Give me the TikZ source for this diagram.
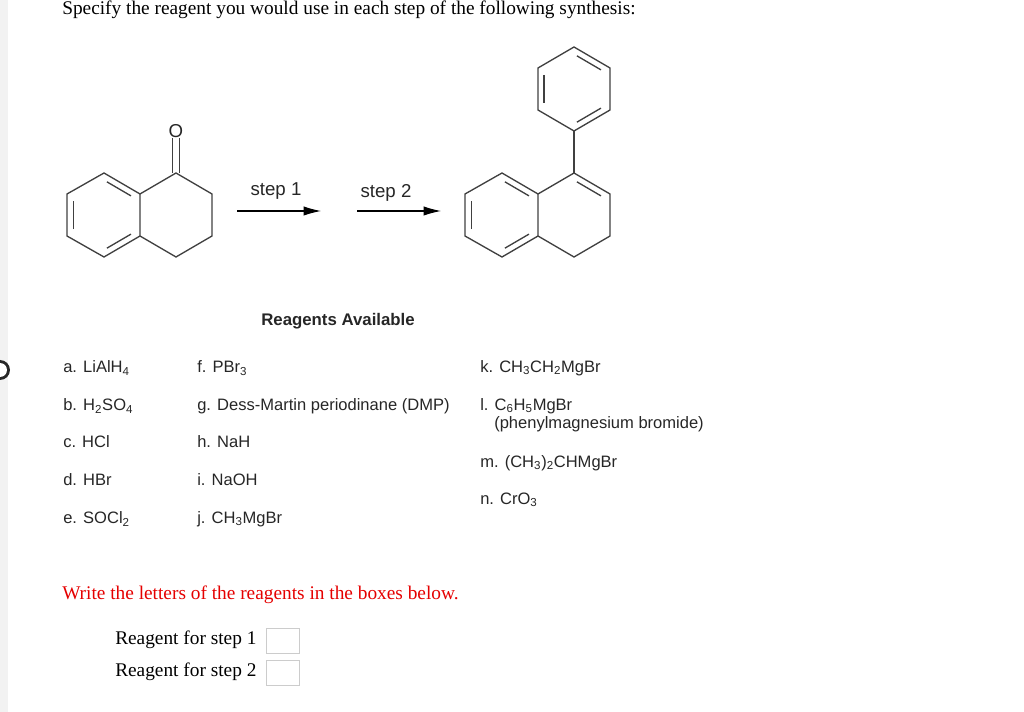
\documentclass[tikz,border=0pt]{standalone}
\usepackage{fontspec}
\setmainfont{Liberation Serif}
\setsansfont{Liberation Sans}
\usetikzlibrary{calc,arrows.meta}
\newcommand{\sub}[1]{\textsubscript{#1}}
\begin{document}
\begin{tikzpicture}[x=0.75pt,y=-0.75pt,
  bond/.style={line width=1pt,draw=black!75},
  lab/.style={font=\sffamily\fontsize{12.4}{14}\selectfont,anchor=west,inner sep=0pt,text=black!85},
  ser/.style={font=\fontsize{14.5}{17}\selectfont,anchor=west,inner sep=0pt},
  stp/.style={font=\sffamily\fontsize{14}{16}\selectfont,inner sep=0pt,text=black!85},
  rxn/.style={line width=0.8pt,-{Latex[length=13pt,width=7pt]}},
  ansbox/.style={draw=black!20,minimum width=25pt,minimum height=19pt,inner sep=0pt,anchor=north west}]
\useasboundingbox (0,0) rectangle (1024,712);
\fill[black!5] (0,0) rectangle (8,712);
\fill[black!85] (0,370) circle (10);
\fill[white] (0,370) circle (7);
\node[ser] (title) at (62,10) {Specify the reagent you would use in each step of the following synthesis:};
\newcommand{\inner}[3]{\draw[bond,shorten <=2.5pt,shorten >=2.5pt] ($(#1)!0.83!(#2)$) -- ($(#1)!0.83!(#3)$);}
% starting material
\coordinate (ca) at (104,215); \coordinate (cb) at (176,215);
\coordinate (a1) at (104,173); \coordinate (a2) at (140,194); \coordinate (a3) at (140,236);
\coordinate (a4) at (104,257); \coordinate (a5) at (67,236); \coordinate (a6) at (67,194);
\coordinate (b1) at (176,173); \coordinate (b2) at (212,194); \coordinate (b3) at (212,236); \coordinate (b4) at (176,257);
\draw[bond] (a1)--(a2)--(a3)--(a4)--(a5)--(a6)--cycle;
\draw[bond] (a2)--(b1)--(b2)--(b3)--(b4)--(a3);
\inner{ca}{a1}{a2} \inner{ca}{a5}{a6} \inner{ca}{a3}{a4}
\node[stp] (O) at (176,131) {O};
\draw[bond] ([xshift=-2.5pt]b1) -- ([xshift=-2.5pt]O.south);
\draw[bond] ([xshift=2.5pt]b1 |- b1) -- ([xshift=2.5pt]O.south);
% arrows
\coordinate (s1a) at (237,211); \coordinate (s1b) at (321,211);
\coordinate (s2a) at (357,211); \coordinate (s2b) at (441,211);
\draw[rxn] (s1a) -- (s1b);
\draw[rxn] (s2a) -- (s2b);
\node[stp] (st1) at (276,191) {step 1};
\node[stp] (st2) at (386,193) {step 2};
% product
\coordinate (pa) at (502,215); \coordinate (pb) at (574,215); \coordinate (pc) at (574,89);
\coordinate (p1) at (502,173); \coordinate (p2) at (538,194); \coordinate (p3) at (538,236);
\coordinate (p4) at (502,257); \coordinate (p5) at (465,236); \coordinate (p6) at (465,194);
\coordinate (q1) at (574,173); \coordinate (q2) at (610,194); \coordinate (q3) at (610,236); \coordinate (q4) at (574,257);
\draw[bond] (p1)--(p2)--(p3)--(p4)--(p5)--(p6)--cycle;
\draw[bond] (p2)--(q1)--(q2)--(q3)--(q4)--(p3);
\inner{pa}{p1}{p2} \inner{pa}{p5}{p6} \inner{pa}{p3}{p4} \inner{pb}{q1}{q2}
\coordinate (r1) at (574,131); \coordinate (r2) at (610,110); \coordinate (r3) at (610,68);
\coordinate (r4) at (574,47); \coordinate (r5) at (538,68); \coordinate (r6) at (538,110);
\draw[bond] (r1)--(r2)--(r3)--(r4)--(r5)--(r6)--cycle;
\draw[bond] (q1)--(r1);
\inner{pc}{r1}{r2} \inner{pc}{r3}{r4} \inner{pc}{r5}{r6}
% reagents
\node[font=\sffamily\bfseries\fontsize{12.6}{14}\selectfont,text=black!85] (hdr) at (338,321) {Reagents Available};
\node[lab] (ra) at (63,368) {a. LiAlH\sub{4}};
\node[lab] (rb) at (63,406) {b. H\sub{2}SO\sub{4}};
\node[lab] (rc) at (63,442) {c. HCl};
\node[lab] (rd) at (63,480) {d. HBr};
\node[lab] (re) at (63,519) {e. SOCl\sub{2}};
\node[lab] (rf) at (197,368) {f. PBr\sub{3}};
\node[lab] (rg) at (197,406) {g. Dess-Martin periodinane (DMP)};
\node[lab] (rh) at (197,442) {h. NaH};
\node[lab] (ri) at (197,480) {i. NaOH};
\node[lab] (rj) at (197,519) {j. CH\sub{3}MgBr};
\node[lab] (rk) at (480,368) {k. CH\sub{3}CH\sub{2}MgBr};
\node[lab] (rl) at (480,406) {l. C\sub{6}H\sub{5}MgBr};
\node[lab] (rl2) at (494,424) {(phenylmagnesium bromide)};
\node[lab] (rm) at (480,463) {m. (CH\sub{3})\sub{2}CHMgBr};
\node[lab] (rn) at (480,500) {n. CrO\sub{3}};
% answers
\node[ser,text=red!90!black] (wr) at (62,595) {Write the letters of the reagents in the boxes below.};
\node[ser] (rs1) at (115,640) {Reagent for step 1};
\node[ser] (rs2) at (115,672) {Reagent for step 2};
\node[ansbox] (bx1) at (266,628) {};
\node[ansbox] (bx2) at (266,660) {};
\end{tikzpicture}
\end{document}
